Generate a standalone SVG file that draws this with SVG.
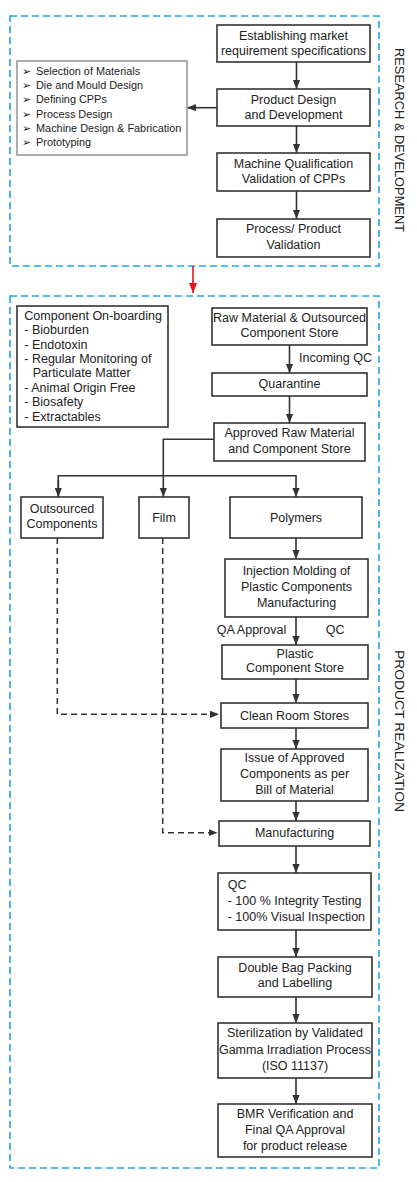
<svg xmlns="http://www.w3.org/2000/svg" width="417" height="1182" viewBox="0 0 417 1182">
<style>
.bg{fill:#fff}
.sec{fill:none;stroke:#1ea5e0;stroke-width:1.6;stroke-dasharray:7,4}
.box{fill:#fff;stroke:#333;stroke-width:1.6}
.gbox{fill:#fff;stroke:#9a9a9a;stroke-width:1.6}
.t{font-family:"Liberation Sans",Arial,sans-serif;font-size:12.5px;fill:#222;text-anchor:middle}
.tl{font-family:"Liberation Sans",Arial,sans-serif;font-size:12.5px;fill:#222}
.li{font-family:"Liberation Sans",Arial,sans-serif;font-size:10.9px;fill:#222}
.bu{font-family:"DejaVu Sans",sans-serif;font-size:11px;fill:#222}
.side{font-family:"Liberation Sans",Arial,sans-serif;font-size:13.5px;fill:#222}
.c{fill:none;stroke:#333;stroke-width:1.6}
.d{fill:none;stroke:#333;stroke-width:1.5;stroke-dasharray:6,4}
</style>
<defs>
<marker id="ah" viewBox="0 0 10 10" refX="10" refY="5" markerWidth="9" markerHeight="9" markerUnits="userSpaceOnUse" orient="auto"><path d="M0,1 L10,5 L0,9 z" fill="#333"/></marker>
<marker id="ahr" viewBox="0 0 10 10" refX="10" refY="5" markerWidth="10" markerHeight="10" markerUnits="userSpaceOnUse" orient="auto"><path d="M0,1 L10,5 L0,9 z" fill="#e3161b"/></marker>
</defs>
<rect class="bg" x="0" y="0" width="417" height="1182"/>

<g id="section-rd">
<rect class="sec" x="10" y="16" width="369" height="250"/>
<text class="side" transform="translate(395,48) rotate(90)" textLength="184" lengthAdjust="spacingAndGlyphs">RESEARCH &amp; DEVELOPMENT</text>
</g>
<g id="section-pr">
<rect class="sec" x="10" y="296" width="369" height="872"/>
<text class="side" transform="translate(395,650) rotate(90)" textLength="162" lengthAdjust="spacingAndGlyphs">PRODUCT REALIZATION</text>
</g>

<g id="connectors">
<line class="c" x1="296.5" y1="62" x2="296.5" y2="89" marker-end="url(#ah)"/>
<line class="c" x1="217" y1="107.7" x2="187" y2="107.7" marker-end="url(#ah)"/>
<line class="c" x1="296.5" y1="126" x2="296.5" y2="153" marker-end="url(#ah)"/>
<line class="c" x1="296.5" y1="191" x2="296.5" y2="219" marker-end="url(#ah)"/>
<line x1="193" y1="266" x2="193" y2="293" stroke="#e3161b" stroke-width="1.6" marker-end="url(#ahr)"/>
<line class="c" x1="289.5" y1="345" x2="289.5" y2="373" marker-end="url(#ah)"/>
<line class="c" x1="289.5" y1="396" x2="289.5" y2="423" marker-end="url(#ah)"/>
<polyline class="c" points="214,439.3 163.3,439.3 163.3,497" marker-end="url(#ah)"/>
<polyline class="c" points="58.3,497 58.3,475.7 296,475.7 296,497" marker-end="url(#ah)"/>
<line class="c" x1="58.3" y1="480" x2="58.3" y2="497" marker-end="url(#ah)"/>
<line class="c" x1="296" y1="538" x2="296" y2="559" marker-end="url(#ah)"/>
<line class="c" x1="296" y1="617" x2="296" y2="645" marker-end="url(#ah)"/>
<line class="c" x1="296" y1="679" x2="296" y2="703" marker-end="url(#ah)"/>
<line class="c" x1="296" y1="728" x2="296" y2="749" marker-end="url(#ah)"/>
<line class="c" x1="296" y1="801" x2="296" y2="821" marker-end="url(#ah)"/>
<line class="c" x1="296" y1="846" x2="296" y2="873" marker-end="url(#ah)"/>
<line class="c" x1="296" y1="930" x2="296" y2="957" marker-end="url(#ah)"/>
<line class="c" x1="296" y1="997" x2="296" y2="1023" marker-end="url(#ah)"/>
<line class="c" x1="296" y1="1078" x2="296" y2="1104" marker-end="url(#ah)"/>
<polyline class="d" points="57.3,538 57.3,714.3 219,714.3" marker-end="url(#ah)"/>
<polyline class="d" points="162.7,538 162.7,832.7 217.5,832.7" marker-end="url(#ah)"/>
<text class="tl" x="299" y="361.7">Incoming QC</text>
<text class="tl" x="216.7" y="634">QA Approval</text>
<text class="tl" x="325.7" y="634">QC</text>
</g>

<g id="n-establishing">
<rect class="box" x="217" y="25" width="153" height="37"/>
<text class="t" x="293.5" y="39.5">Establishing market</text>
<text class="t" x="293.5" y="55">requirement specifications</text>
</g>
<g id="n-product-design">
<rect class="box" x="217" y="89" width="153" height="37"/>
<text class="t" x="293.5" y="104">Product Design</text>
<text class="t" x="293.5" y="118.5">and Development</text>
</g>
<g id="n-list">
<rect class="gbox" x="17" y="61" width="170" height="94"/>
<text class="bu" x="22" y="75">➢</text><text class="li" x="36" y="75">Selection of Materials</text>
<text class="bu" x="22" y="89.3">➢</text><text class="li" x="36" y="89.3">Die and Mould Design</text>
<text class="bu" x="22" y="103.4">➢</text><text class="li" x="36" y="103.4">Defining CPPs</text>
<text class="bu" x="22" y="117.6">➢</text><text class="li" x="36" y="117.6">Process Design</text>
<text class="bu" x="22" y="131.7">➢</text><text class="li" x="36" y="131.7">Machine Design &amp; Fabrication</text>
<text class="bu" x="22" y="145.8">➢</text><text class="li" x="36" y="145.8">Prototyping</text>
</g>
<g id="n-machine-qual">
<rect class="box" x="217" y="153" width="153" height="38"/>
<text class="t" x="293.5" y="167.7">Machine Qualification</text>
<text class="t" x="293.5" y="183.3">Validation of CPPs</text>
</g>
<g id="n-process-validation">
<rect class="box" x="217" y="219" width="153" height="38"/>
<text class="t" x="293.5" y="233.3">Process/ Product</text>
<text class="t" x="293.5" y="249">Validation</text>
</g>

<g id="n-onboarding">
<rect class="box" x="17" y="306" width="151" height="121"/>
<text class="tl" x="24.3" y="320" font-size="12.6">Component On-boarding</text>
<text class="tl" x="24.3" y="334.4" font-size="12.6">- Bioburden</text>
<text class="tl" x="24.3" y="348.6" font-size="12.6">- Endotoxin</text>
<text class="tl" x="24.3" y="362.9" font-size="12.6">- Regular Monitoring of</text>
<text class="tl" x="32.7" y="377.3" font-size="12.6">Particulate Matter</text>
<text class="tl" x="24.3" y="391.7" font-size="12.6">- Animal Origin Free</text>
<text class="tl" x="24.3" y="406" font-size="12.6">- Biosafety</text>
<text class="tl" x="24.3" y="420.5" font-size="12.6">- Extractables</text>
</g>
<g id="n-raw-material">
<rect class="box" x="212" y="308" width="155" height="37"/>
<text class="t" x="289.5" y="321.7">Raw Material &amp; Outsourced</text>
<text class="t" x="289.5" y="337.3">Component Store</text>
</g>
<g id="n-quarantine">
<rect class="box" x="212" y="373" width="155" height="23"/>
<text class="t" x="289.5" y="388">Quarantine</text>
</g>
<g id="n-approved">
<rect class="box" x="214" y="423" width="151" height="38"/>
<text class="t" x="289.5" y="437.3">Approved Raw Material</text>
<text class="t" x="289.5" y="452.7">and Component Store</text>
</g>
<g id="n-outsourced">
<rect class="box" x="21" y="497" width="82" height="41"/>
<text class="t" x="62" y="512.7">Outsourced</text>
<text class="t" x="62" y="528.3">Components</text>
</g>
<g id="n-film">
<rect class="box" x="139" y="497" width="50" height="41"/>
<text class="t" x="164" y="521.7">Film</text>
</g>
<g id="n-polymers">
<rect class="box" x="230" y="497" width="132" height="41"/>
<text class="t" x="296" y="521.7">Polymers</text>
</g>
<g id="n-injection">
<rect class="box" x="225" y="559" width="143" height="58"/>
<text class="t" x="296.5" y="575">Injection Molding of</text>
<text class="t" x="296.5" y="591">Plastic Components</text>
<text class="t" x="296.5" y="606.7">Manufacturing</text>
</g>
<g id="n-plastic-store">
<rect class="box" x="222" y="645" width="146" height="34"/>
<text class="t" x="295" y="658.3">Plastic</text>
<text class="t" x="295" y="671.7">Component Store</text>
</g>
<g id="n-clean-room">
<rect class="box" x="221" y="703" width="147" height="25"/>
<text class="t" x="294.5" y="719.5">Clean Room Stores</text>
</g>
<g id="n-issue">
<rect class="box" x="221" y="749" width="147" height="52"/>
<text class="t" x="294.5" y="761.7">Issue of Approved</text>
<text class="t" x="294.5" y="778.3">Components as per</text>
<text class="t" x="294.5" y="794">Bill of Material</text>
</g>
<g id="n-manufacturing">
<rect class="box" x="219" y="821" width="151" height="25"/>
<text class="t" x="294.5" y="836.5">Manufacturing</text>
</g>
<g id="n-qc">
<rect class="box" x="218" y="873" width="153" height="57"/>
<text class="tl" x="227.7" y="889.3">QC</text>
<text class="tl" x="227.7" y="905">- 100 % Integrity Testing</text>
<text class="tl" x="227.7" y="921">- 100% Visual Inspection</text>
</g>
<g id="n-double-bag">
<rect class="box" x="218" y="957" width="154" height="40"/>
<text class="t" x="295" y="971.7">Double Bag Packing</text>
<text class="t" x="295" y="987.3">and Labelling</text>
</g>
<g id="n-sterilization">
<rect class="box" x="218" y="1023" width="154" height="55"/>
<text class="t" x="295" y="1037.3">Sterilization by Validated</text>
<text class="t" x="295" y="1054">Gamma Irradiation Process</text>
<text class="t" x="295" y="1070">(ISO 11137)</text>
</g>
<g id="n-bmr">
<rect class="box" x="218" y="1104" width="154" height="53"/>
<text class="t" x="295" y="1118.3">BMR Verification and</text>
<text class="t" x="295" y="1134.3">Final QA Approval</text>
<text class="t" x="295" y="1150">for product release</text>
</g>
</svg>
